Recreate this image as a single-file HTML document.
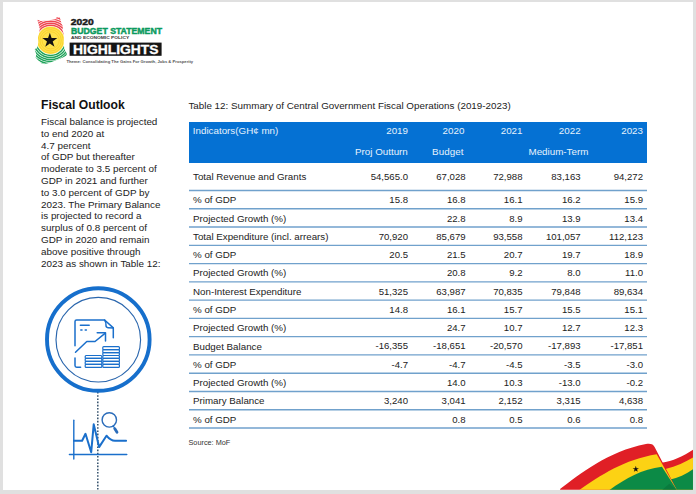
<!DOCTYPE html>
<html><head><meta charset="utf-8">
<style>
html,body{margin:0;padding:0;}
body{width:696px;height:494px;background:#e0e0e0;position:relative;overflow:hidden;font-family:"Liberation Sans",sans-serif;color:#222;}
#page{position:absolute;left:2.8px;top:1.8px;width:690.6px;height:488px;background:#fff;}
.abs{position:absolute;white-space:nowrap;}
#h1{left:41px;top:97.5px;font-size:12.15px;font-weight:bold;color:#111;}
#para{left:41px;top:116px;font-size:9.88px;line-height:11.8px;color:#222;}
#cap{left:188.4px;top:100.4px;font-size:9.83px;color:#222;}
#thead{position:absolute;left:188.5px;top:122px;width:458.5px;height:41px;background:#0571d3;}
.hc{position:absolute;color:#e6f1fc;font-size:9.8px;white-space:nowrap;}
.row{position:absolute;left:189px;width:458px;font-size:9.6px;color:#222;box-sizing:content-box;}
.row span{position:absolute;white-space:nowrap;}
.row .l{left:4px;font-size:9.75px;}
.c1{right:239px;}.c2{right:181.4px;}.c3{right:124.5px;}.c4{right:66.4px;}.c5{right:4px;}
#src{left:188.5px;top:437.8px;font-size:7.3px;color:#333;}
svg{position:absolute;overflow:visible;}
</style></head><body>
<div id="page"></div>

<svg id="logo" style="left:30px;top:12px;" width="50" height="56" viewBox="0 0 441 494">
<defs>
<clipPath id="gh"><path d="M65,68 L100,80 L160,74 L222,64 L238,44 L262,44 L270,72 L277,100 L291,130 L286,160 L300,200 L296,260 L301,310 L311,345 L327,366 L320,386 L290,401 L240,421 L180,446 L130,461 L100,451 L75,431 L50,401 L55,370 L40,330 L65,310 L75,270 L70,230 L80,190 L86,150 L76,110 Z"/></clipPath>
<clipPath id="tophalf"><rect x="0" y="0" width="441" height="250"/></clipPath>
<clipPath id="bothalf"><rect x="0" y="250" width="441" height="250"/></clipPath>
</defs>
<g clip-path="url(#gh)">
<g clip-path="url(#tophalf)" fill="none" stroke="#ee4650" stroke-width="12.5">
<circle cx="182" cy="250" r="133"/><circle cx="182" cy="250" r="151"/><circle cx="182" cy="250" r="169"/><circle cx="182" cy="250" r="187"/><circle cx="182" cy="250" r="205"/><circle cx="182" cy="250" r="223"/><circle cx="182" cy="250" r="241"/><circle cx="182" cy="250" r="259"/>
</g>
<g clip-path="url(#bothalf)" fill="none" stroke="#1fa35a" stroke-width="12.5">
<circle cx="182" cy="250" r="133"/><circle cx="182" cy="250" r="151"/><circle cx="182" cy="250" r="169"/><circle cx="182" cy="250" r="187"/><circle cx="182" cy="250" r="205"/><circle cx="182" cy="250" r="223"/><circle cx="182" cy="250" r="241"/><circle cx="182" cy="250" r="259"/>
</g>
<circle cx="182" cy="250" r="121" fill="#fde24c"/>
<g fill="none" stroke="#f9cf2a" stroke-width="7">
<circle cx="182" cy="250" r="76"/><circle cx="182" cy="250" r="94"/><circle cx="182" cy="250" r="112"/>
</g>
</g>
<path fill="#111" transform="translate(175,248) scale(1.1) translate(-180,-250)" d="M180,190 L194.1,233.4 L239.9,233.4 L202.9,260.3 L217,303.6 L180,276.8 L143,303.6 L157.1,260.3 L120.1,233.4 L165.9,233.4 Z"/>
</svg>
<svg id="logotext" style="left:0;top:0;" width="696" height="80" viewBox="0 0 696 80" font-family="'Liberation Sans',sans-serif" font-weight="bold">
<text x="70.7" y="25.2" font-size="8.8" fill="#1a1a1a" stroke="#1a1a1a" stroke-width="0.45" textLength="23" lengthAdjust="spacingAndGlyphs">2020</text>
<text x="71" y="33.5" font-size="8.6" fill="#0b9a5e" stroke="#0b9a5e" stroke-width="0.45" textLength="91" lengthAdjust="spacingAndGlyphs">BUDGET STATEMENT</text>
<text x="71" y="39" font-size="3.9" fill="#333" textLength="58.2" lengthAdjust="spacingAndGlyphs">AND ECONOMIC POLICY</text>
<rect x="69.6" y="42.6" width="92" height="13.2" fill="#151515"/>
<text x="73" y="53.9" font-size="12.6" fill="#fff" stroke="#fff" stroke-width="0.3" textLength="85.6" lengthAdjust="spacingAndGlyphs">HIGHLIGHTS</text>
<text x="66.4" y="62.5" font-size="4.2" fill="#555" textLength="126.8" lengthAdjust="spacingAndGlyphs">Theme: Consolidating The Gains For Growth, Jobs &amp; Prosperity</text>
</svg>


<div id="h1" class="abs">Fiscal Outlook</div>
<div id="para" class="abs">Fiscal balance is projected<br>to end 2020 at<br>4.7 percent<br>of GDP but thereafter<br>moderate to 3.5 percent of<br>GDP in 2021 and further<br>to 3.0 percent of GDP by<br>2023. The Primary Balance<br>is projected to record a<br>surplus of 0.8 percent of<br>GDP in 2020 and remain<br>above positive through<br>2023 as shown in Table 12:</div>

<svg id="icons" style="left:0;top:0;" width="200" height="494" viewBox="0 0 200 494" fill="none" stroke="#1a6fcb" stroke-linecap="round" stroke-linejoin="round">
<line x1="97.8" y1="392" x2="97.8" y2="489.8" stroke="#33506b" stroke-width="1.5" stroke-dasharray="1.6 1.6" stroke-linecap="butt"/>
<circle cx="98.3" cy="339.5" r="51.3" stroke-width="3.9" stroke="#166fcc" fill="#fff"/>
<circle cx="98.3" cy="339.7" r="42.3" stroke-width="1.15" stroke="#2a66ad"/>
<!-- document -->
<g stroke-width="1.5">
<path d="M75,345.8 L75,321.6 Q75,320 76.6,320 L104.6,320 L113.3,327.9 L113.3,337.8"/>
<path d="M104.6,320 Q106.4,322.5 106,325.6 Q106,327.6 108,327.7 L113.3,327.9"/>
<path d="M75,358 L75,365.6 Q75,367.2 76.6,367.2 L80.6,367.2"/>
<path d="M80.4,325.2 L89.2,325.2"/>
<path d="M80.8,330 L82,330 M85.2,330 L86.4,330"/>
<path d="M75.5,352.2 L86.8,341.5 L95,341.5 L105,333.3"/>
<path d="M97.2,332.8 L105.5,332.8 L105.5,341"/>
<!-- coins -->
<g stroke-width="1.2">
<rect x="85.2" y="364.35" width="16.6" height="2.95" rx="0.9"/>
<rect x="85.2" y="361.40" width="16.6" height="2.95" rx="0.9"/>
<rect x="85.2" y="358.45" width="16.6" height="2.95" rx="0.9"/>
<rect x="85.2" y="355.50" width="16.6" height="2.95" rx="0.9"/>
<rect x="102.8" y="364.35" width="16.6" height="2.95" rx="0.9"/>
<rect x="102.8" y="361.40" width="16.6" height="2.95" rx="0.9"/>
<rect x="102.8" y="358.45" width="16.6" height="2.95" rx="0.9"/>
<rect x="102.8" y="355.50" width="16.6" height="2.95" rx="0.9"/>
<rect x="102.8" y="352.55" width="16.6" height="2.95" rx="0.9"/>
<rect x="102.8" y="349.60" width="16.6" height="2.95" rx="0.9"/>
<rect x="102.8" y="346.65" width="16.6" height="2.95" rx="0.9"/>
</g>
</g>
<!-- chart -->
<g stroke-width="1.4">
<line x1="73.8" y1="420.3" x2="73.8" y2="459"/>
<line x1="69.4" y1="454.5" x2="126.8" y2="454.5"/>
</g>
<path stroke-width="2" d="M73.9,440.8 L82.1,440.8 L85.5,433.8 L91.2,452.2 L93.7,424.3 L99.1,447.1 L106.5,435.7 Q110.5,440.8 115,440.8 L126.1,440.8"/>
<circle cx="109.3" cy="419.9" r="7.2" stroke-width="1.4" stroke="#2a6cba"/>
<line x1="113.2" y1="425.9" x2="114.4" y2="427.8" stroke-width="1.2"/>
<line x1="114.7" y1="428.6" x2="117" y2="432.3" stroke-width="2.8" stroke="#2a6cba"/>
</svg>


<div id="cap" class="abs">Table 12: Summary of Central Government Fiscal Operations (2019-2023)</div>
<div id="thead"></div>
<div class="hc" style="left:192.8px;top:125px;">Indicators(GH¢ mn)</div>
<div class="hc" style="right:288px;top:125px;">2019</div>
<div class="hc" style="right:231.6px;top:125px;">2020</div>
<div class="hc" style="right:173.5px;top:125px;">2021</div>
<div class="hc" style="right:115.4px;top:125px;">2022</div>
<div class="hc" style="right:53px;top:125px;">2023</div>
<div class="hc" style="left:355px;top:146px;">Proj Outturn</div>
<div class="hc" style="left:432px;top:146px;letter-spacing:0.1px;">Budget</div>
<div class="hc" style="left:528.5px;top:146px;">Medium-Term</div>

<svg id="tbl" style="left:0;top:0;" width="696" height="494" viewBox="0 0 696 494" font-family="'Liberation Sans',sans-serif" fill="#222">
<line x1="189" x2="647" y1="190.50" y2="190.50" stroke="#70a1cc" stroke-width="1.35"/>
<line x1="189" x2="647" y1="208.77" y2="208.77" stroke="#70a1cc" stroke-width="1.35"/>
<line x1="189" x2="647" y1="227.04" y2="227.04" stroke="#70a1cc" stroke-width="1.35"/>
<line x1="189" x2="647" y1="245.31" y2="245.31" stroke="#70a1cc" stroke-width="1.35"/>
<line x1="189" x2="647" y1="263.58" y2="263.58" stroke="#70a1cc" stroke-width="1.35"/>
<line x1="189" x2="647" y1="281.85" y2="281.85" stroke="#70a1cc" stroke-width="1.35"/>
<line x1="189" x2="647" y1="300.12" y2="300.12" stroke="#70a1cc" stroke-width="1.35"/>
<line x1="189" x2="647" y1="318.39" y2="318.39" stroke="#70a1cc" stroke-width="1.35"/>
<line x1="189" x2="647" y1="336.66" y2="336.66" stroke="#70a1cc" stroke-width="1.35"/>
<line x1="189" x2="647" y1="354.93" y2="354.93" stroke="#70a1cc" stroke-width="1.35"/>
<line x1="189" x2="647" y1="373.20" y2="373.20" stroke="#70a1cc" stroke-width="1.35"/>
<line x1="189" x2="647" y1="391.47" y2="391.47" stroke="#70a1cc" stroke-width="1.35"/>
<line x1="189" x2="647" y1="409.74" y2="409.74" stroke="#70a1cc" stroke-width="1.35"/>
<line x1="189" x2="647" y1="428.01" y2="428.01" stroke="#70a1cc" stroke-width="1.35"/>
<text x="193" y="180.29" font-size="9.75">Total Revenue and Grants</text>
<text x="408.0" y="180.24" font-size="9.6" text-anchor="end">54,565.0</text>
<text x="465.6" y="180.24" font-size="9.6" text-anchor="end">67,028</text>
<text x="522.5" y="180.24" font-size="9.6" text-anchor="end">72,988</text>
<text x="580.6" y="180.24" font-size="9.6" text-anchor="end">83,163</text>
<text x="643.0" y="180.24" font-size="9.6" text-anchor="end">94,272</text>
<text x="193" y="203.38" font-size="9.75">% of GDP</text>
<text x="408.0" y="203.32" font-size="9.6" text-anchor="end">15.8</text>
<text x="465.6" y="203.32" font-size="9.6" text-anchor="end">16.8</text>
<text x="522.5" y="203.32" font-size="9.6" text-anchor="end">16.1</text>
<text x="580.6" y="203.32" font-size="9.6" text-anchor="end">16.2</text>
<text x="643.0" y="203.32" font-size="9.6" text-anchor="end">15.9</text>
<text x="193" y="221.65" font-size="9.75">Projected Growth (%)</text>
<text x="465.6" y="221.59" font-size="9.6" text-anchor="end">22.8</text>
<text x="522.5" y="221.59" font-size="9.6" text-anchor="end">8.9</text>
<text x="580.6" y="221.59" font-size="9.6" text-anchor="end">13.9</text>
<text x="643.0" y="221.59" font-size="9.6" text-anchor="end">13.4</text>
<text x="193" y="239.92" font-size="9.75">Total Expenditure (incl. arrears)</text>
<text x="408.0" y="239.86" font-size="9.6" text-anchor="end">70,920</text>
<text x="465.6" y="239.86" font-size="9.6" text-anchor="end">85,679</text>
<text x="522.5" y="239.86" font-size="9.6" text-anchor="end">93,558</text>
<text x="580.6" y="239.86" font-size="9.6" text-anchor="end">101,057</text>
<text x="643.0" y="239.86" font-size="9.6" text-anchor="end">112,123</text>
<text x="193" y="258.19" font-size="9.75">% of GDP</text>
<text x="408.0" y="258.13" font-size="9.6" text-anchor="end">20.5</text>
<text x="465.6" y="258.13" font-size="9.6" text-anchor="end">21.5</text>
<text x="522.5" y="258.13" font-size="9.6" text-anchor="end">20.7</text>
<text x="580.6" y="258.13" font-size="9.6" text-anchor="end">19.7</text>
<text x="643.0" y="258.13" font-size="9.6" text-anchor="end">18.9</text>
<text x="193" y="276.46" font-size="9.75">Projected Growth (%)</text>
<text x="465.6" y="276.40" font-size="9.6" text-anchor="end">20.8</text>
<text x="522.5" y="276.40" font-size="9.6" text-anchor="end">9.2</text>
<text x="580.6" y="276.40" font-size="9.6" text-anchor="end">8.0</text>
<text x="643.0" y="276.40" font-size="9.6" text-anchor="end">11.0</text>
<text x="193" y="294.73" font-size="9.75">Non-Interest Expenditure</text>
<text x="408.0" y="294.67" font-size="9.6" text-anchor="end">51,325</text>
<text x="465.6" y="294.67" font-size="9.6" text-anchor="end">63,987</text>
<text x="522.5" y="294.67" font-size="9.6" text-anchor="end">70,835</text>
<text x="580.6" y="294.67" font-size="9.6" text-anchor="end">79,848</text>
<text x="643.0" y="294.67" font-size="9.6" text-anchor="end">89,634</text>
<text x="193" y="313.00" font-size="9.75">% of GDP</text>
<text x="408.0" y="312.94" font-size="9.6" text-anchor="end">14.8</text>
<text x="465.6" y="312.94" font-size="9.6" text-anchor="end">16.1</text>
<text x="522.5" y="312.94" font-size="9.6" text-anchor="end">15.7</text>
<text x="580.6" y="312.94" font-size="9.6" text-anchor="end">15.5</text>
<text x="643.0" y="312.94" font-size="9.6" text-anchor="end">15.1</text>
<text x="193" y="331.27" font-size="9.75">Projected Growth (%)</text>
<text x="465.6" y="331.21" font-size="9.6" text-anchor="end">24.7</text>
<text x="522.5" y="331.21" font-size="9.6" text-anchor="end">10.7</text>
<text x="580.6" y="331.21" font-size="9.6" text-anchor="end">12.7</text>
<text x="643.0" y="331.21" font-size="9.6" text-anchor="end">12.3</text>
<text x="193" y="349.54" font-size="9.75">Budget Balance</text>
<text x="408.0" y="349.48" font-size="9.6" text-anchor="end">-16,355</text>
<text x="465.6" y="349.48" font-size="9.6" text-anchor="end">-18,651</text>
<text x="522.5" y="349.48" font-size="9.6" text-anchor="end">-20,570</text>
<text x="580.6" y="349.48" font-size="9.6" text-anchor="end">-17,893</text>
<text x="643.0" y="349.48" font-size="9.6" text-anchor="end">-17,851</text>
<text x="193" y="367.81" font-size="9.75">% of GDP</text>
<text x="408.0" y="367.75" font-size="9.6" text-anchor="end">-4.7</text>
<text x="465.6" y="367.75" font-size="9.6" text-anchor="end">-4.7</text>
<text x="522.5" y="367.75" font-size="9.6" text-anchor="end">-4.5</text>
<text x="580.6" y="367.75" font-size="9.6" text-anchor="end">-3.5</text>
<text x="643.0" y="367.75" font-size="9.6" text-anchor="end">-3.0</text>
<text x="193" y="386.08" font-size="9.75">Projected Growth (%)</text>
<text x="465.6" y="386.02" font-size="9.6" text-anchor="end">14.0</text>
<text x="522.5" y="386.02" font-size="9.6" text-anchor="end">10.3</text>
<text x="580.6" y="386.02" font-size="9.6" text-anchor="end">-13.0</text>
<text x="643.0" y="386.02" font-size="9.6" text-anchor="end">-0.2</text>
<text x="193" y="404.35" font-size="9.75">Primary Balance</text>
<text x="408.0" y="404.29" font-size="9.6" text-anchor="end">3,240</text>
<text x="465.6" y="404.29" font-size="9.6" text-anchor="end">3,041</text>
<text x="522.5" y="404.29" font-size="9.6" text-anchor="end">2,152</text>
<text x="580.6" y="404.29" font-size="9.6" text-anchor="end">3,315</text>
<text x="643.0" y="404.29" font-size="9.6" text-anchor="end">4,638</text>
<text x="193" y="422.62" font-size="9.75">% of GDP</text>
<text x="465.6" y="422.56" font-size="9.6" text-anchor="end">0.8</text>
<text x="522.5" y="422.56" font-size="9.6" text-anchor="end">0.5</text>
<text x="580.6" y="422.56" font-size="9.6" text-anchor="end">0.6</text>
<text x="643.0" y="422.56" font-size="9.6" text-anchor="end">0.8</text>
</svg>
<div id="src" class="abs">Source: MoF</div>

<svg id="flag" style="left:560px;top:430px;" width="136" height="64" viewBox="0 0 696 328">
<defs><clipPath id="pg"><rect x="0" y="0" width="681" height="306"/></clipPath></defs>
<g clip-path="url(#pg)">
<!-- back (right) piece -->
<path fill="#e01f26" d="M520,168 C580,160 640,130 690,95 L690,310 L560,310 Z"/>
<path fill="#fcd214" d="M540,200 C600,185 650,160 690,135 L690,310 L560,310 Z"/>
<path fill="#0c8a46" d="M560,255 C610,245 650,225 690,195 L690,310 L570,310 Z"/>
<!-- front piece -->
<path fill="#e01f26" d="M-10,310 C90,235 240,110 440,72 C465,68 478,74 485,88 L600,310 Z"/>
<path fill="#fcd214" d="M95,310 C200,235 330,150 495,124 L600,310 Z"/>
<path fill="#0c8a46" d="M250,310 C330,250 420,200 522,188 L600,310 Z"/>
<path fill="#0a6e38" opacity="0.55" d="M520,310 L560,275 L600,310 Z"/>
<path fill="#111" transform="translate(388,200) scale(0.27)" d="M0,-60 L14.1,-16.6 L59.9,-16.6 L22.9,10.3 L37,53.6 L0,26.8 L-37,53.6 L-22.9,10.3 L-59.9,-16.6 L-14.1,-16.6 Z"/>
</g>
</svg>

</body></html>
